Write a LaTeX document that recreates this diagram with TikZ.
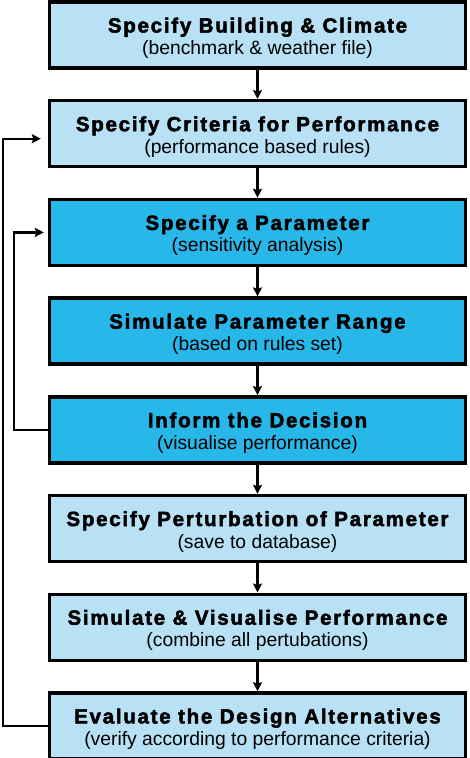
\documentclass[tikz,border=0pt]{standalone}
\usepackage{fontspec}
\setmainfont{Liberation Sans}
\newfontfamily\heavyfont{Liberation Sans Bold}[LetterSpace=8.5,FakeBold=2.4]
\usetikzlibrary{positioning,arrows.meta}
\definecolor{paleblue}{RGB}{184,225,246}
\definecolor{deepblue}{RGB}{40,183,233}
\newcommand{\stagetext}[2]{{\fontsize{20.5}{22}\heavyfont\rule{0pt}{21pt}#1}\\#2}
\begin{document}
\begin{tikzpicture}[x=1pt,y=1pt,
    stage/.style={draw=black,line width=3.4pt,fill=paleblue,minimum width=416pt,minimum height=66pt,
      align=center,inner sep=0pt,font=\fontsize{19.3}{22}\selectfont},
    keystage/.style={stage,fill=deepblue},
    flow/.style={line width=2.3pt,-{Stealth[length=9pt,width=9pt,inset=1.5pt]}},
    node distance=29.3pt]
  \useasboundingbox (0,0) rectangle (469,-758);
  \node[stage] (climate) at (257.5,-35) {\stagetext{Specify Building \& Climate}{(benchmark \& weather file)}};
  \node[stage,below=of climate] (criteria) {\stagetext{Specify Criteria for Performance}{(performance based rules)}};
  \node[keystage,below=of criteria] (param) {\stagetext{Specify a Parameter}{(sensitivity analysis)}};
  \node[keystage,below=of param] (range) {\stagetext{Simulate Parameter Range}{(based on rules set)}};
  \node[keystage,below=of range] (decision) {\stagetext{Inform the Decision}{(visualise performance)}};
  \node[stage,below=of decision] (perturb) {\stagetext{Specify Perturbation of Parameter}{(save to database)}};
  \node[stage,below=of perturb] (combine) {\stagetext{Simulate \& Visualise Performance}{(combine all pertubations)}};
  \node[stage,below=of combine] (evaluate) {\stagetext{Evaluate the Design Alternatives}{(verify according to performance criteria)}};
  % main sequence
  \foreach \a/\b in {climate/criteria,criteria/param,param/range,range/decision,decision/perturb,perturb/combine,combine/evaluate}
    \draw[flow] (\a) -- (\b);
  % feedback loops
  \draw[flow,shorten >=7pt] (evaluate.west) -- ++(-45,0) |- ([yshift=-5pt]criteria.west);
  \draw[flow,shorten >=4pt] (decision.west) -- ++(-34,0) |- (param.west);
\end{tikzpicture}
\end{document}
